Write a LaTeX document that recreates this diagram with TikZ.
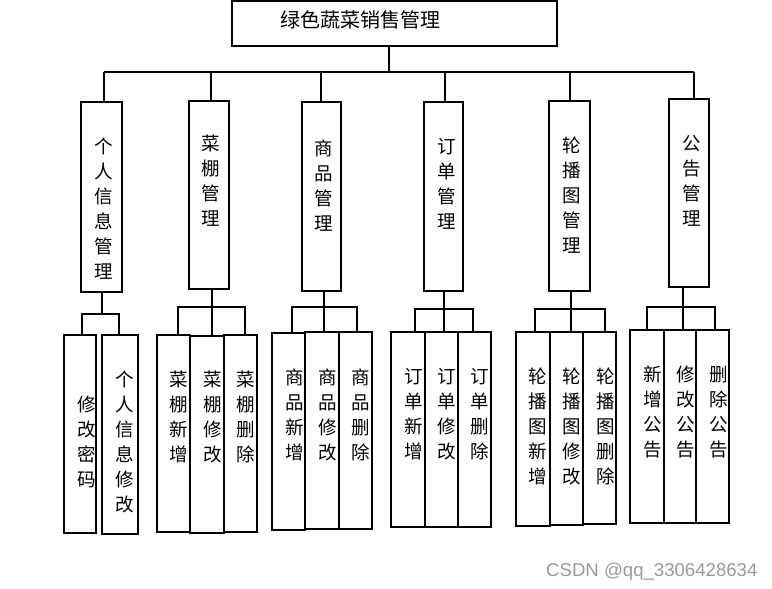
\documentclass[tikz,border=0pt]{standalone}
\usepackage{fontspec}
\newfontfamily\cjk{Noto Sans CJK SC}
\newfontfamily\wmfont{Liberation Sans}
\begin{document}
\begin{tikzpicture}[x=1pt,y=-1pt,
  box/.style={draw, line width=1.2pt, inner sep=0pt, outer sep=0pt},
  vt/.style={font=\cjk\fontsize{18.5}{25}\selectfont, align=center, anchor=north, inner sep=0pt},
  ln/.style={line width=1.2pt}]
\useasboundingbox (0,0) rectangle (772,589);
\newcommand\mybox[5]{\node[box, minimum width={(#3-#2)*1pt}, minimum height={(#5-#4)*1pt}] (#1) at ({(#2+#3)/2},{(#4+#5)/2}) {};}
% top
\mybox{top}{232}{557}{1}{46}
\node[font=\cjk\fontsize{20}{20}\selectfont, inner sep=0pt] (tt) at (360,20) {绿色蔬菜销售管理};
% level 1
\mybox{n1}{81}{122}{102}{292}
\mybox{n2}{189}{229}{101}{289}
\mybox{n3}{302}{341}{102}{291}
\mybox{n4}{424}{463}{102}{291}
\mybox{n5}{549}{590}{101}{291}
\mybox{n6}{669}{709}{99}{287}
\node[vt] (tn1) at (104,138) {个\\人\\信\\息\\管\\理};
\node[vt] (tn2) at (211,135) {菜\\棚\\管\\理};
\node[vt] (tn3) at (324,140) {商\\品\\管\\理};
\node[vt] (tn4) at (447,138) {订\\单\\管\\理};
\node[vt] (tn5) at (572,137) {轮\\播\\图\\管\\理};
\node[vt] (tn6) at (692,135) {公\\告\\管\\理};
% level 2
\mybox{a1}{64}{96}{335}{533}
\mybox{a2}{102}{138}{335}{534}
\mybox{b1}{157}{190}{335}{532}
\mybox{b2}{190}{224}{336}{533}
\mybox{b3}{224}{257}{335}{532}
\mybox{c1}{272}{305}{333}{530}
\mybox{c2}{305}{339}{332}{529}
\mybox{c3}{339}{372}{332}{529}
\mybox{d1}{391}{425}{332}{527}
\mybox{d2}{425}{458}{332}{527}
\mybox{d3}{458}{491}{332}{527}
\mybox{e1}{516}{550}{332}{526}
\mybox{e2}{550}{583}{332}{525}
\mybox{e3}{583}{616}{332}{524}
\mybox{f1}{630}{664}{330}{523}
\mybox{f2}{664}{696}{330}{523}
\mybox{f3}{696}{729}{330}{523}
\node[vt] (ta1) at (87,396) {修\\改\\密\\码};
\node[vt] (ta2) at (125,371) {个\\人\\信\\息\\修\\改};
\node[vt] (tb1) at (179,371) {菜\\棚\\新\\增};
\node[vt] (tb2) at (213,371) {菜\\棚\\修\\改};
\node[vt] (tb3) at (246,371) {菜\\棚\\删\\除};
\node[vt] (tc1) at (295,369) {商\\品\\新\\增};
\node[vt] (tc2) at (328,369) {商\\品\\修\\改};
\node[vt] (tc3) at (361,369) {商\\品\\删\\除};
\node[vt] (td1) at (414,368) {订\\单\\新\\增};
\node[vt] (td2) at (447,368) {订\\单\\修\\改};
\node[vt] (td3) at (480,368) {订\\单\\删\\除};
\node[vt] (te1) at (538,368) {轮\\播\\图\\新\\增};
\node[vt] (te2) at (572,368) {轮\\播\\图\\修\\改};
\node[vt] (te3) at (606,368) {轮\\播\\图\\删\\除};
\node[vt] (tf1) at (653,366) {新\\增\\公\\告};
\node[vt] (tf2) at (686,366) {修\\改\\公\\告};
\node[vt] (tf3) at (719,366) {删\\除\\公\\告};
% top connectors
\coordinate (tr) at (389,72);
\coordinate (busL) at (104,72);
\coordinate (busR) at (694,72);
\coordinate (k2) at (211,72);
\coordinate (k3) at (321,72);
\coordinate (k4) at (445,72);
\coordinate (k5) at (570,72);
\draw[ln] (top.south -| tr) -- (tr);
\draw[ln] (busL) -- (busR);
\draw[ln] (busL) -- (busL |- n1.north);
\draw[ln] (k2) -- (k2 |- n2.north);
\draw[ln] (k3) -- (k3 |- n3.north);
\draw[ln] (k4) -- (k4 |- n4.north);
\draw[ln] (k5) -- (k5 |- n5.north);
\draw[ln] (busR) -- (busR |- n6.north);
% group 1
\coordinate (g1) at (102,314);
\coordinate (g1L) at (82,314);
\coordinate (g1R) at (119,314);
\draw[ln] (n1.south -| g1) -- (g1);
\draw[ln] (g1L |- a1.north) -- (g1L) -- (g1R) -- (g1R |- a2.north);
% group 2
\coordinate (g2) at (212,307);
\coordinate (g2L) at (178,307);
\coordinate (g2R) at (245,307);
\draw[ln] (n2.south -| g2) -- (g2 |- b2.north);
\draw[ln] (g2L |- b1.north) -- (g2L) -- (g2R) -- (g2R |- b3.north);
% group 3
\coordinate (g3) at (324,307);
\coordinate (g3L) at (292,307);
\coordinate (g3R) at (357,307);
\draw[ln] (n3.south -| g3) -- (g3 |- c2.north);
\draw[ln] (g3L |- c1.north) -- (g3L) -- (g3R) -- (g3R |- c3.north);
% group 4
\coordinate (g4) at (444,309);
\coordinate (g4L) at (415,309);
\coordinate (g4R) at (473,309);
\draw[ln] (n4.south -| g4) -- (g4 |- d2.north);
\draw[ln] (g4L |- d1.north) -- (g4L) -- (g4R) -- (g4R |- d3.north);
% group 5
\coordinate (g5) at (571,309);
\coordinate (g5L) at (535,309);
\coordinate (g5R) at (605,309);
\draw[ln] (n5.south -| g5) -- (g5 |- e2.north);
\draw[ln] (g5L |- e1.north) -- (g5L) -- (g5R) -- (g5R |- e3.north);
% group 6
\coordinate (g6) at (683,307);
\coordinate (g6L) at (647,307);
\coordinate (g6R) at (715,307);
\draw[ln] (n6.south -| g6) -- (g6 |- f2.north);
\draw[ln] (g6L |- f1.north) -- (g6L) -- (g6R) -- (g6R |- f3.north);
% watermark
\node[font=\wmfont\fontsize{18.6}{20}\selectfont, text=black!40, anchor=base west, inner sep=0pt] (wm) at (546,576) {CSDN @qq\_3306428634};
\end{tikzpicture}
\end{document}
